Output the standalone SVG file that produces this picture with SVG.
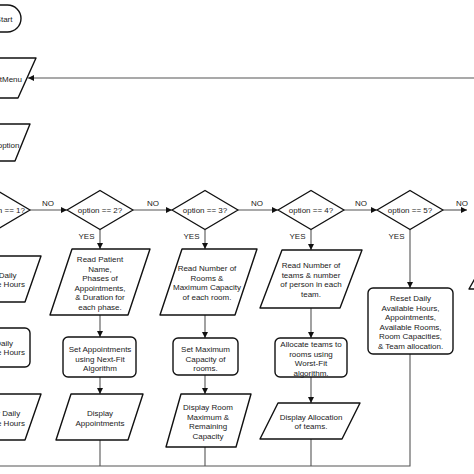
<svg xmlns="http://www.w3.org/2000/svg" width="474" height="474" viewBox="0 0 474 474">
<style>
.s{fill:#fff;stroke:#111;stroke-width:1.4;stroke-linejoin:round}
.c{fill:none;stroke:#555;stroke-width:1.1}
text{font-family:"Liberation Sans",Arial,sans-serif;font-size:8px;fill:#222;text-anchor:middle}
.e{text-anchor:end}
</style>
<defs>
<marker id="ah" markerUnits="userSpaceOnUse" markerWidth="6" markerHeight="6" refX="6" refY="3" orient="auto">
<path d="M0,0 L6,3 L0,6 z" fill="#111"/>
</marker>
</defs>
<rect width="474" height="474" fill="#fff"/>
<g id="connectors">
<path class="c" d="M-3,32 V58" marker-end="url(#ah)"/>
<path class="c" d="M-3,98 V124" marker-end="url(#ah)"/>
<path class="c" d="M-3,161 V190" marker-end="url(#ah)"/>
<path class="c" d="M-3,229 V256" marker-end="url(#ah)"/>
<path class="c" d="M-3,302 V328" marker-end="url(#ah)"/>
<path class="c" d="M-3,367 V394" marker-end="url(#ah)"/>
<path class="c" d="M-3,440 V466"/>
<path class="c" d="M30,210 H67" marker-end="url(#ah)"/>
<path class="c" d="M133,210 H172" marker-end="url(#ah)"/>
<path class="c" d="M238,210 H278" marker-end="url(#ah)"/>
<path class="c" d="M344,210 H377" marker-end="url(#ah)"/>
<path class="c" d="M443,210 H467" marker-end="url(#ah)"/>
<path class="c" d="M100,229.5 V249" marker-end="url(#ah)"/>
<path class="c" d="M205,229.5 V249" marker-end="url(#ah)"/>
<path class="c" d="M311,229.5 V250" marker-end="url(#ah)"/>
<path class="c" d="M410,229.5 V288" marker-end="url(#ah)"/>
<path class="c" d="M100,315 V337" marker-end="url(#ah)"/>
<path class="c" d="M100,377 V394" marker-end="url(#ah)"/>
<path class="c" d="M100,440 V466"/>
<path class="c" d="M205,315 V338" marker-end="url(#ah)"/>
<path class="c" d="M205,375 V394" marker-end="url(#ah)"/>
<path class="c" d="M205,447 V466"/>
<path class="c" d="M311,308 V338" marker-end="url(#ah)"/>
<path class="c" d="M311,377 V403" marker-end="url(#ah)"/>
<path class="c" d="M311,439 V466"/>
<path class="c" d="M410,354 V466 H-10"/>
<path class="c" d="M480,78 H28" marker-end="url(#ah)"/>
<text x="48" y="206">NO</text>
<text x="153" y="206">NO</text>
<text x="257" y="206">NO</text>
<text x="361" y="206">NO</text>
<text x="462" y="206">NO</text>
<text x="86.5" y="239">YES</text>
<text x="191.5" y="239">YES</text>
<text x="297.5" y="239">YES</text>
<text x="396.5" y="239">YES</text>
</g>
<g id="start">
<rect class="s" x="-25" y="5" width="46" height="27" rx="13.5"/>
<text class="e" x="12.5" y="22">Start</text>
</g>
<g id="menu">
<polygon class="s" points="-40,58 36,58 18,98 -58,98"/>
<text class="e" x="22" y="82">PrintMenu</text>
</g>
<g id="read-option">
<polygon class="s" points="-40,124 30,124 15,161 -55,161"/>
<text class="e" x="19.5" y="148">Read option</text>
</g>
<g id="d1">
<polygon class="s" points="-3,190.5 30,210 -3,229.5 -36,210"/>
<text class="e" x="25" y="213">option == 1?</text>
</g>
<g id="d2">
<polygon class="s" points="100,190.5 133,210 100,229.5 67,210"/>
<text x="100" y="213">option == 2?</text>
</g>
<g id="d3">
<polygon class="s" points="205,190.5 238,210 205,229.5 172,210"/>
<text x="205" y="213">option == 3?</text>
</g>
<g id="d4">
<polygon class="s" points="311,190.5 344,210 311,229.5 278,210"/>
<text x="311" y="213">option == 4?</text>
</g>
<g id="d5">
<polygon class="s" points="410,190.5 443,210 410,229.5 377,210"/>
<text x="410" y="213">option == 5?</text>
</g>
<g id="c1-read">
<polygon class="s" points="-31,256 41,256 25,302 -47,302"/>
<text x="-3" y="277.5">Read Daily</text>
<text x="-3" y="287">Available Hours</text>
</g>
<g id="c1-set">
<rect class="s" x="-37" y="328" width="67" height="39" rx="5"/>
<text x="-3" y="345.5">Set Daily</text>
<text x="-3" y="355">Available Hours</text>
</g>
<g id="c1-display">
<polygon class="s" points="-31,394 41,394 25,440 -47,440"/>
<text x="-3" y="416">Display Daily</text>
<text x="-3" y="425.5">Available Hours</text>
</g>
<g id="c2-read">
<polygon class="s" points="72,249 150,249 128,315 50,315"/>
<text x="100" y="262">Read Patient</text>
<text x="100" y="271.5">Name,</text>
<text x="100" y="281">Phases of</text>
<text x="100" y="290.5">Appointments,</text>
<text x="100" y="300">&amp; Duration for</text>
<text x="100" y="309.5">each phase.</text>
</g>
<g id="c2-set">
<rect class="s" x="63" y="337" width="73" height="40" rx="5"/>
<text x="100" y="352">Set Appointments</text>
<text x="100" y="361.5">using Next-Fit</text>
<text x="100" y="371">Algorithm</text>
</g>
<g id="c2-display">
<polygon class="s" points="71,394 143,394 128,440 56,440"/>
<text x="100" y="416">Display</text>
<text x="100" y="425.5">Appointments</text>
</g>
<g id="c3-read">
<polygon class="s" points="182,249 257,249 235,315 160,315"/>
<text x="207" y="271">Read Number of</text>
<text x="207" y="280.5">Rooms &amp;</text>
<text x="207" y="290">Maximum Capacity</text>
<text x="207" y="299.5">of each room.</text>
</g>
<g id="c3-set">
<rect class="s" x="173" y="338" width="65" height="37" rx="5"/>
<text x="205.5" y="352">Set Maximum</text>
<text x="205.5" y="361.5">Capacity of</text>
<text x="205.5" y="371">rooms.</text>
</g>
<g id="c3-display">
<polygon class="s" points="181,394 251,394 236,447 166,447"/>
<text x="208" y="410">Display Room</text>
<text x="208" y="419.5">Maximum &amp;</text>
<text x="208" y="429">Remaining</text>
<text x="208" y="438.5">Capacity</text>
</g>
<g id="c4-read">
<polygon class="s" points="282,250 362,250 340,308 260,308"/>
<text x="311" y="268">Read Number of</text>
<text x="311" y="277.5">teams &amp; number</text>
<text x="311" y="287">of person in each</text>
<text x="311" y="296.5">team.</text>
</g>
<g id="c4-set">
<rect class="s" x="275" y="338" width="72" height="39" rx="5"/>
<text x="311" y="347">Allocate teams to</text>
<text x="311" y="356.5">rooms using</text>
<text x="311" y="366">Worst-Fit</text>
<text x="311" y="375.5">algorithm.</text>
</g>
<g id="c4-display">
<polygon class="s" points="278,403 360,403 342,439 260,439"/>
<text x="311" y="419.5">Display Allocation</text>
<text x="311" y="428.5">of teams.</text>
</g>
<g id="c5-reset">
<rect class="s" x="368" y="288" width="85" height="66" rx="5"/>
<text x="410.5" y="301">Reset Daily</text>
<text x="410.5" y="310.5">Available Hours,</text>
<text x="410.5" y="320">Appointments,</text>
<text x="410.5" y="329.5">Available Rooms,</text>
<text x="410.5" y="339">Room Capacities,</text>
<text x="410.5" y="348.5">&amp; Team allocation.</text>
</g>
<g id="c6-partial">
<polygon class="s" points="491,250 570,250 548,289 469,289"/>
</g>
</svg>
